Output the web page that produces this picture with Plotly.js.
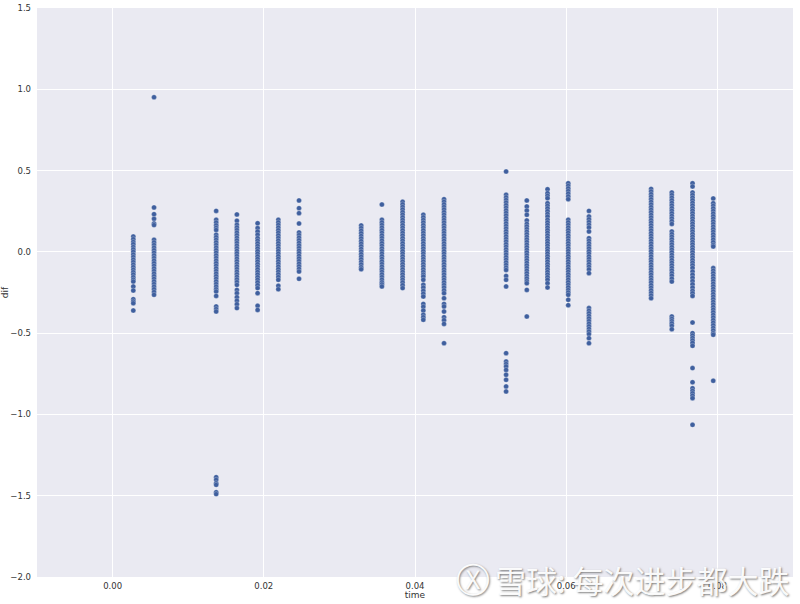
<!DOCTYPE html>
<html>
<head>
<meta charset="utf-8">
<script src="https://cdn.plot.ly/plotly-3.0.1.min.js"></script>
<style>html,body{margin:0;padding:0;background:#fff;}#chart{width:800px;height:604px;}</style>
</head>
<body>
<div id="chart"></div>
<script>
// time value of each column
const times = [0.00274,0.00548,0.0137,0.01644,0.01918,0.02192,0.02466,0.03288,0.03562,0.03836,0.0411,0.04384,0.05205,0.05479,0.05753,0.06027,0.06301,0.07123,0.07397,0.07671,0.07945];

// dif values of each column
const c1 = [0.094,0.078,0.061,0.047,0.03,0.015,0.0,-0.017,-0.032,-0.048,-0.063,-0.079,-0.094,-0.11,-0.125,-0.14,-0.156,-0.171,-0.183,-0.213,-0.238,-0.291,-0.305,-0.316,-0.361];
const c2 = [0.951,0.273,0.232,0.203,0.175,0.165,0.074,0.058,0.042,0.026,0.01,-0.006,-0.022,-0.038,-0.054,-0.07,-0.086,-0.102,-0.118,-0.134,-0.15,-0.166,-0.182,-0.198,-0.214,-0.23,-0.247,-0.264];
const c3 = [0.252,0.197,0.18,0.163,0.148,0.135,0.105,0.09,0.074,0.058,0.042,0.026,0.01,-0.006,-0.022,-0.038,-0.054,-0.07,-0.086,-0.102,-0.118,-0.134,-0.15,-0.166,-0.182,-0.198,-0.214,-0.23,-0.244,-0.271,-0.336,-0.352,-0.367,-1.386,-1.402,-1.423,-1.433,-1.478,-1.49];
const c4 = [0.23,0.191,0.166,0.15,0.134,0.118,0.102,0.086,0.07,0.054,0.038,0.022,0.006,-0.01,-0.026,-0.042,-0.058,-0.074,-0.09,-0.106,-0.122,-0.138,-0.154,-0.17,-0.186,-0.203,-0.234,-0.254,-0.279,-0.3,-0.322,-0.346];
const c5 = [0.176,0.146,0.125,0.105,0.084,0.068,0.052,0.036,0.02,0.004,-0.012,-0.028,-0.044,-0.06,-0.076,-0.092,-0.108,-0.124,-0.14,-0.156,-0.172,-0.188,-0.205,-0.223,-0.254,-0.332,-0.357];
const c6 = [0.197,0.181,0.165,0.149,0.133,0.117,0.101,0.085,0.069,0.053,0.037,0.021,0.005,-0.011,-0.027,-0.043,-0.059,-0.075,-0.091,-0.107,-0.123,-0.139,-0.155,-0.172,-0.209,-0.23];
const c7 = [0.316,0.269,0.238,0.174,0.119,0.103,0.087,0.071,0.055,0.039,0.023,0.007,-0.009,-0.025,-0.041,-0.057,-0.073,-0.089,-0.105,-0.121,-0.166];
const c8 = [0.162,0.146,0.13,0.114,0.098,0.082,0.066,0.05,0.034,0.018,0.002,-0.014,-0.03,-0.046,-0.062,-0.078,-0.094,-0.107];
const c9 = [0.291,0.197,0.181,0.165,0.149,0.133,0.117,0.101,0.085,0.069,0.053,0.037,0.021,0.005,-0.011,-0.027,-0.043,-0.059,-0.075,-0.091,-0.107,-0.123,-0.139,-0.155,-0.171,-0.187,-0.2,-0.213];
const c10 = [0.308,0.292,0.276,0.26,0.244,0.228,0.212,0.196,0.18,0.164,0.148,0.132,0.116,0.1,0.084,0.068,0.052,0.036,0.02,0.004,-0.012,-0.028,-0.044,-0.06,-0.076,-0.092,-0.108,-0.124,-0.14,-0.156,-0.172,-0.188,-0.205,-0.223];
const c11 = [0.228,0.212,0.196,0.18,0.164,0.148,0.132,0.116,0.1,0.084,0.068,0.052,0.036,0.02,0.004,-0.012,-0.028,-0.044,-0.06,-0.076,-0.092,-0.108,-0.124,-0.14,-0.152,-0.172,-0.203,-0.22,-0.24,-0.258,-0.275,-0.32,-0.338,-0.361,-0.387,-0.402,-0.418];
const c12 = [0.324,0.308,0.292,0.276,0.26,0.244,0.228,0.212,0.196,0.18,0.164,0.148,0.132,0.116,0.1,0.084,0.068,0.052,0.036,0.02,0.004,-0.012,-0.028,-0.044,-0.06,-0.076,-0.092,-0.108,-0.124,-0.14,-0.156,-0.172,-0.188,-0.204,-0.22,-0.237,-0.254,-0.285,-0.32,-0.336,-0.367,-0.402,-0.42,-0.443,-0.562];
const c13 = [0.494,0.351,0.335,0.319,0.303,0.287,0.271,0.255,0.239,0.223,0.207,0.191,0.175,0.159,0.143,0.127,0.111,0.095,0.079,0.063,0.047,0.031,0.015,-0.001,-0.017,-0.033,-0.049,-0.065,-0.081,-0.097,-0.111,-0.148,-0.172,-0.213,-0.623,-0.675,-0.69,-0.705,-0.726,-0.756,-0.787,-0.828,-0.859];
const c14 = [0.316,0.279,0.254,0.228,0.193,0.172,0.156,0.14,0.124,0.108,0.092,0.076,0.06,0.044,0.028,0.012,-0.004,-0.02,-0.036,-0.052,-0.068,-0.084,-0.1,-0.116,-0.132,-0.148,-0.164,-0.18,-0.193,-0.234,-0.398];
const c15 = [0.385,0.361,0.345,0.33,0.299,0.283,0.267,0.25,0.233,0.217,0.197,0.181,0.165,0.149,0.133,0.117,0.101,0.085,0.069,0.053,0.037,0.021,0.005,-0.011,-0.027,-0.043,-0.06,-0.076,-0.092,-0.108,-0.124,-0.14,-0.156,-0.172,-0.193,-0.219];
const c16 = [0.422,0.406,0.39,0.374,0.358,0.341,0.324,0.197,0.181,0.165,0.149,0.133,0.117,0.101,0.085,0.069,0.053,0.037,0.021,0.005,-0.011,-0.027,-0.043,-0.059,-0.075,-0.091,-0.107,-0.123,-0.139,-0.155,-0.171,-0.187,-0.203,-0.219,-0.235,-0.25,-0.264,-0.295,-0.328];
const c17 = [0.252,0.217,0.2,0.183,0.166,0.15,0.125,0.084,0.068,0.052,0.036,0.02,0.004,-0.012,-0.028,-0.044,-0.06,-0.076,-0.092,-0.108,-0.131,-0.346,-0.362,-0.378,-0.394,-0.41,-0.426,-0.442,-0.458,-0.474,-0.49,-0.506,-0.531,-0.562];
const c18 = [0.387,0.371,0.355,0.339,0.323,0.307,0.291,0.275,0.259,0.243,0.227,0.211,0.195,0.179,0.163,0.147,0.131,0.115,0.099,0.083,0.067,0.051,0.035,0.019,0.003,-0.013,-0.029,-0.045,-0.061,-0.077,-0.093,-0.109,-0.125,-0.141,-0.157,-0.173,-0.189,-0.205,-0.221,-0.237,-0.253,-0.269,-0.285];
const c19 = [0.365,0.349,0.333,0.317,0.301,0.285,0.269,0.253,0.237,0.221,0.205,0.189,0.172,0.125,0.109,0.093,0.077,0.061,0.045,0.029,0.013,-0.003,-0.019,-0.035,-0.051,-0.067,-0.083,-0.099,-0.115,-0.131,-0.147,-0.165,-0.183,-0.398,-0.412,-0.426,-0.44,-0.455,-0.476];
const c20 = [0.422,0.402,0.365,0.349,0.333,0.317,0.301,0.285,0.269,0.253,0.237,0.221,0.205,0.189,0.173,0.157,0.141,0.125,0.109,0.093,0.077,0.061,0.045,0.029,0.013,-0.003,-0.019,-0.035,-0.051,-0.067,-0.083,-0.099,-0.121,-0.141,-0.16,-0.18,-0.2,-0.22,-0.24,-0.255,-0.271,-0.435,-0.5,-0.515,-0.53,-0.545,-0.56,-0.578,-0.715,-0.802,-0.839,-0.855,-0.87,-0.885,-0.9,-1.064];
const c21 = [0.328,0.299,0.283,0.267,0.251,0.235,0.219,0.203,0.187,0.171,0.155,0.139,0.123,0.107,0.091,0.075,0.059,0.043,0.033,-0.1,-0.116,-0.132,-0.148,-0.164,-0.18,-0.196,-0.212,-0.228,-0.244,-0.26,-0.276,-0.292,-0.308,-0.324,-0.34,-0.356,-0.372,-0.388,-0.404,-0.42,-0.436,-0.452,-0.468,-0.484,-0.5,-0.51,-0.793];

const columns = [c1,c2,c3,c4,c5,c6,c7,c8,c9,c10,c11,c12,c13,c14,c15,c16,c17,c18,c19,c20,c21];

const xTickVals = [0.00,0.02,0.04,0.06,0.08];
const xTickText = ['0.00','0.02','0.04','0.06','0.08'];
const yTickVals = [-2.0,-1.5,-1.0,-0.5,0.0,0.5,1.0,1.5];
const yTickText = ['\u22122.0','\u22121.5','\u22121.0','\u22120.5','0.0','0.5','1.0','1.5'];

const xs = [], ys = [];
columns.forEach((col, i) => { col.forEach(v => { xs.push(times[i]); ys.push(v); }); });

const trace = {
  type: 'scatter', mode: 'markers', x: xs, y: ys,
  marker: {size: 5, color: '#3f5f9e', line: {color: 'rgba(255,255,255,0.5)', width: 0.5}},
  hoverinfo: 'x+y'
};

const tickFont = {family: 'DejaVu Sans, sans-serif', size: 8.5, color: '#333'};
const layout = {
  width: 800, height: 604,
  paper_bgcolor: '#ffffff', plot_bgcolor: '#EAEAF2',
  margin: {l: 37, r: 7, t: 8, b: 27},
  showlegend: false,
  xaxis: {
    range: [-0.01, 0.09], tickvals: xTickVals, ticktext: xTickText,
    showgrid: true, gridcolor: '#ffffff', gridwidth: 1, zeroline: false,
    showline: false, ticks: '', tickfont: tickFont, ticklabelstandoff: 2,
    title: {text: 'time', font: {family: 'DejaVu Sans, sans-serif', size: 9, color: '#333'}, standoff: 2}
  },
  yaxis: {
    range: [-2.0, 1.5], tickvals: yTickVals, ticktext: yTickText,
    showgrid: true, gridcolor: '#ffffff', gridwidth: 1, zeroline: false,
    showline: false, ticks: '', tickfont: tickFont, ticklabelstandoff: 5,
    title: {text: 'dif', font: {family: 'DejaVu Sans, sans-serif', size: 9, color: '#333'}, standoff: 6}
  },
  annotations: [
    {xref: 'paper', yref: 'paper', x: 0.551, y: -0.005, xanchor: 'left', yanchor: 'middle', showarrow: false,
     text: '\u24CD', font: {family: 'DejaVu Sans, sans-serif', size: 34, color: 'rgba(255,255,255,0.95)', shadow: '1px 1px 2px #777'}},
    {xref: 'paper', yref: 'paper', x: 0.603, y: -0.005, xanchor: 'left', yanchor: 'middle', showarrow: false,
     text: '雪球: 每次进步都大跌', font: {family: 'Noto Sans CJK SC, sans-serif', size: 31, color: 'rgba(255,255,255,0.95)', shadow: '1px 1px 2px #777'}}
  ]
};

Plotly.newPlot('chart', [trace], layout, {staticPlot: true, displayModeBar: false});
</script>
</body>
</html>
